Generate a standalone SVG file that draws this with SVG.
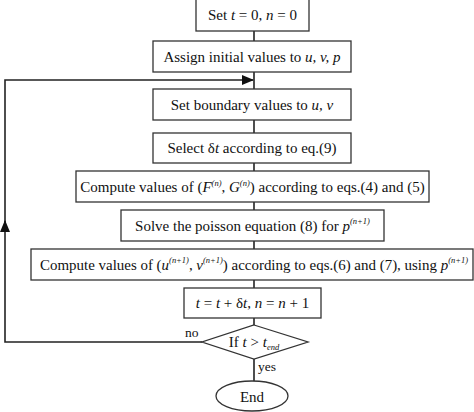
<svg xmlns="http://www.w3.org/2000/svg" width="474" height="412" viewBox="0 0 474 412">
<style>
.box{fill:#fff;stroke:#333;stroke-width:1.3}
.ln{fill:none;stroke:#222;stroke-width:1.6}
text{font-family:"Liberation Serif","Times New Roman",serif;font-size:15px;fill:#111}
.t{text-anchor:middle}
.i{font-style:italic}
.s{font-size:8.5px;font-style:italic}
.lb{font-size:13.5px}
</style>
<defs>
<marker id="ah" markerWidth="12" markerHeight="10" refX="11" refY="5" orient="auto" markerUnits="userSpaceOnUse">
<path d="M0,0 L12,5 L0,10 Z" fill="#111"/>
</marker>
</defs>
<g id="connectors">
<line class="ln" x1="254" y1="31" x2="254" y2="41"/>
<line class="ln" x1="254" y1="72" x2="254" y2="89"/>
<line class="ln" x1="254" y1="120" x2="254" y2="133"/>
<line class="ln" x1="254" y1="163" x2="254" y2="171"/>
<line class="ln" x1="254" y1="202" x2="254" y2="210"/>
<line class="ln" x1="254" y1="241" x2="254" y2="249"/>
<line class="ln" x1="254" y1="280" x2="254" y2="288"/>
<line class="ln" x1="254" y1="318" x2="254" y2="325"/>
<line class="ln" x1="254" y1="359" x2="254" y2="381"/>
<polyline class="ln" points="202,342 5,342 5,80 253,80" marker-end="url(#ah)"/>
<line class="ln" x1="5" y1="232" x2="5" y2="221" marker-end="url(#ah)"/>
<text x="185" y="337" class="lb">no</text>
<text x="258" y="371" class="lb">yes</text>
</g>
<g id="n1">
<rect class="box" x="196" y="-1" width="113" height="32"/>
<text x="252.5" y="20" class="t">Set <tspan class="i">t</tspan> = 0, <tspan class="i">n</tspan> = 0</text>
</g>
<g id="n2">
<rect class="box" x="153" y="41" width="198" height="31"/>
<text x="252" y="62" class="t">Assign initial values to <tspan class="i">u, v, p</tspan></text>
</g>
<g id="n3">
<rect class="box" x="153" y="89" width="198" height="31"/>
<text x="252" y="110" class="t">Set boundary values to <tspan class="i">u, v</tspan></text>
</g>
<g id="n4">
<rect class="box" x="153" y="133" width="198" height="30"/>
<text x="252" y="153" class="t">Select δ<tspan class="i">t</tspan> according to eq.(9)</text>
</g>
<g id="n5">
<rect class="box" x="76" y="171" width="353" height="31"/>
<text x="252.5" y="192" class="t">Compute values of (<tspan class="i">F</tspan><tspan class="s" dy="-6">(n)</tspan><tspan dy="6">, </tspan><tspan class="i">G</tspan><tspan class="s" dy="-6">(n)</tspan><tspan dy="6">) according to eqs.(4) and (5)</tspan></text>
</g>
<g id="n6">
<rect class="box" x="121" y="210" width="263" height="31"/>
<text x="252.5" y="231" class="t">Solve the poisson equation (8) for <tspan class="i">p</tspan><tspan class="s" dy="-7">(n+1)</tspan></text>
</g>
<g id="n7">
<rect class="box" x="31" y="249" width="442" height="31"/>
<text x="40" y="270" textLength="428" lengthAdjust="spacingAndGlyphs">Compute values of (<tspan class="i">u</tspan><tspan class="s" dy="-7">(n+1)</tspan><tspan dy="7">, </tspan><tspan class="i">v</tspan><tspan class="s" dy="-7">(n+1)</tspan><tspan dy="7">) according to eqs.(6) and (7), using </tspan><tspan class="i">p</tspan><tspan class="s" dy="-7">(n+1)</tspan></text>
</g>
<g id="n8">
<rect class="box" x="184" y="288" width="137" height="30"/>
<text x="252.5" y="308" class="t"><tspan class="i">t</tspan> = <tspan class="i">t</tspan> + δ<tspan class="i">t</tspan>, <tspan class="i">n</tspan> = <tspan class="i">n</tspan> + 1</text>
</g>
<g id="n9">
<polygon class="box" points="254,325 308,342 254,359 202,342"/>
<text x="254" y="347" class="t">If <tspan class="i">t</tspan> &gt; <tspan class="i">t</tspan><tspan class="s" dy="3">end</tspan></text>
</g>
<g id="n10">
<ellipse class="box" cx="252" cy="396" rx="36" ry="15"/>
<text x="252" y="402" class="t">End</text>
</g>
</svg>
